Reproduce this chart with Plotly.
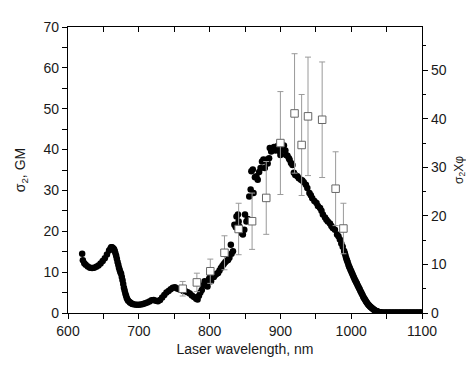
import plotly.graph_objects as go

# sigma2 (GM), left axis
wl = [620,621,623,625,628,631,634,637,640,643,646,649,652,655,658,660,661,662,663,664,
      665,666,667,668,669,670,671,672,673,674,675,676,677,678,679,680,681,682,683,684,
      685,687,688,690,691,694,697,700,703,706,709,712,715,718,721,
      724,727,730,733,736,739,742,745,748,751,754,757,760,763,766,769,772,775,778,781,
      783,785,787,789,791,793,795,797,799,800,802,804,806,808,810,812,814,816,818,820,
      822,824,826,828,830,831,833,835,837,838,840,841,842,844,845,847,849,850,852,854,
      856,858,859,861,862,864,866,868,870,872,874,876,878,880,882,884,885,887,889,891,
      893,894,896,898,899,900,902,904,905,907,908,910,912,913,915,917,919,921,924,926,
      929,931,933,936,938,941,943,945,948,951,953,956,958,960,963,965,967,970,972,974,
      977,980,982,984,986,988,990,991,992,993,994,995,996,997,998,999,1000,1001,1002,1003,
      1004,1005,1006,1007,1008,1009,1010,1011,1012,1013,1014,1015,1016,1017,1018,1019,1020,1021,1022,1023,
      1024,1025,1026,1027,1028,1029,1030,1031,1032,1033,1034,1035,1036,1037,1038,1039,1040,1041,1042,1044,
      1046,1048,1050,1052,1054,1056,1058,1060,1062,1064,1066,1068,1070,1072,1074,1076,1078,1080,1082,1084,
      1086,1088,1090,1092,1094,1096,1098,1100]
sigma2 = [14.5,12.9,12.2,11.8,11.4,11.1,11.0,11.1,11.3,11.6,12.1,12.7,13.4,14.3,15.3,15.8,16.1,16.1,16.0,15.8,
          15.6,15.2,14.6,14.0,13.3,12.5,11.8,11.1,10.5,10.0,9.6,8.8,8.0,7.1,6.2,5.5,4.8,4.2,3.7,3.3,
          3.0,2.7,2.5,2.3,2.2,2.1,2.0,2.0,2.1,2.2,2.4,2.6,2.8,3.1,3.2,
          3.0,2.9,3.2,3.8,4.4,5.0,5.4,5.8,6.2,6.3,6.0,5.8,5.6,5.4,5.3,5.1,4.8,4.3,3.9,3.5,
          3.3,4.2,5.0,5.6,6.8,7.8,7.2,6.5,8.2,8.6,7.8,9.0,8.8,9.3,9.6,9.8,10.4,11.0,11.5,12.0,
          12.4,12.8,13.0,13.5,16.7,14.5,15.1,21.6,21.0,23.6,24.1,22.4,21.2,20.5,19.6,19.2,20.4,24.1,22.4,23.0,
          28.5,30.2,34.7,35.1,29.4,33.2,33.5,32.6,34.5,35.5,37.1,37.6,35.5,37.5,36.6,37.9,40.4,39.5,40.0,40.6,
          39.8,40.4,40.9,40.2,39.6,38.7,40.5,40.0,41.0,39.8,38.7,38.5,37.9,37.5,36.7,36.2,34.3,33.8,33.5,33.0,
          32.6,32.4,32.0,31.4,30.6,29.4,28.8,28.1,27.4,26.9,26.2,25.7,25.0,24.1,23.4,22.8,22.4,21.9,21.3,20.8,
          20.4,19.2,18.8,18.0,17.0,16.2,15.2,14.6,14.0,13.4,12.9,12.4,11.9,11.4,11.0,10.6,10.2,9.8,9.4,9.0,
          8.6,8.2,7.9,7.5,7.2,6.8,6.5,6.1,5.8,5.4,5.1,4.7,4.4,4.0,3.7,3.4,3.1,2.8,2.6,2.3,
          2.1,1.9,1.7,1.55,1.4,1.25,1.1,0.95,0.8,0.7,0.6,0.5,0.45,0.38,0.3,0.25,0.2,0.18,0.15,0.13,
          0.12,0.12,0.12,0.12,0.12,0.12,0.12,0.12,0.12,0.12,0.12,0.12,0.12,0.12,0.12,0.12,0.12,0.12,0.12,0.12,
          0.12,0.12,0.12,0.12,0.12,0.12,0.12,0.12]

# sigma2 x phi, right axis
wl_sq = [762,782,801,821,841,860,880,900,920,930,939,959,978,989]
sig_phi = [5.0,6.3,8.6,12.4,17.3,18.9,23.7,35.0,41.1,34.6,40.5,39.8,25.6,17.4]
sig_phi_err = [1.5,1.9,2.5,3.5,5.3,5.8,7.5,10.6,12.3,10.4,12.2,11.9,7.6,5.2]

x_ticks = [600,700,800,900,1000,1100]

fig = go.Figure()
fig.add_trace(go.Scatter(x=wl, y=sigma2, mode="markers",
                         marker=dict(color="black", size=6.5, line=dict(width=0)),
                         showlegend=False, yaxis="y"))
fig.add_trace(go.Scatter(x=wl_sq, y=sig_phi, mode="markers", yaxis="y2",
                         marker=dict(symbol="square", size=7.5, color="white",
                                     line=dict(color="#666666", width=1)),
                         error_y=dict(type="data", array=sig_phi_err, color="#9a9a9a",
                                      thickness=1, width=3),
                         showlegend=False))
# top axis helper trace (invisible)
fig.add_trace(go.Scatter(x=[600, 1100], y=[None, None], xaxis="x2", yaxis="y",
                         mode="markers", showlegend=False, hoverinfo="skip"))

font = dict(family="Liberation Sans, Arial, sans-serif", size=14, color="#1a1a1a")
fig.update_layout(
    width=474, height=370,
    margin=dict(l=60, r=60, t=19, b=65),
    paper_bgcolor="white", plot_bgcolor="white",
    font=font,
    xaxis=dict(range=[600, 1100], tickvals=x_ticks, ticks="outside", ticklen=5,
               tickwidth=1, tickcolor="black",
               minor=dict(dtick=50, ticks="outside", ticklen=5, tickcolor="black"),
               showline=True, linecolor="black", linewidth=1.2, showgrid=False, zeroline=False,
               title=dict(text="Laser wavelength, nm", standoff=6, font=dict(size=14))),
    xaxis2=dict(range=[600, 1100], overlaying="x", side="top", dtick=50, tick0=600,
                ticks="inside", ticklen=5, tickcolor="black", showticklabels=False,
                showline=True, linecolor="black", linewidth=1.2, showgrid=False, zeroline=False),
    yaxis=dict(range=[0, 70], dtick=10, ticks="outside", ticklen=5, tickcolor="black",
               minor=dict(dtick=5, ticks="outside", ticklen=5, tickcolor="black"),
               showline=True, linecolor="black", linewidth=1.2, showgrid=False, zeroline=False,
               title=dict(text="σ<sub>2</sub>, GM", standoff=14, font=dict(size=14))),
    yaxis2=dict(range=[0, 58.9], dtick=10, overlaying="y", side="right",
                ticks="outside", ticklen=5, tickcolor="black",
                minor=dict(dtick=5, ticks="outside", ticklen=3, tickcolor="black"),
                showline=True, linecolor="black", linewidth=1.2, showgrid=False, zeroline=False,
                title=dict(text="σ<sub>2</sub>Xφ", standoff=8, font=dict(size=12))),
)
fig.write_html("out.html")
